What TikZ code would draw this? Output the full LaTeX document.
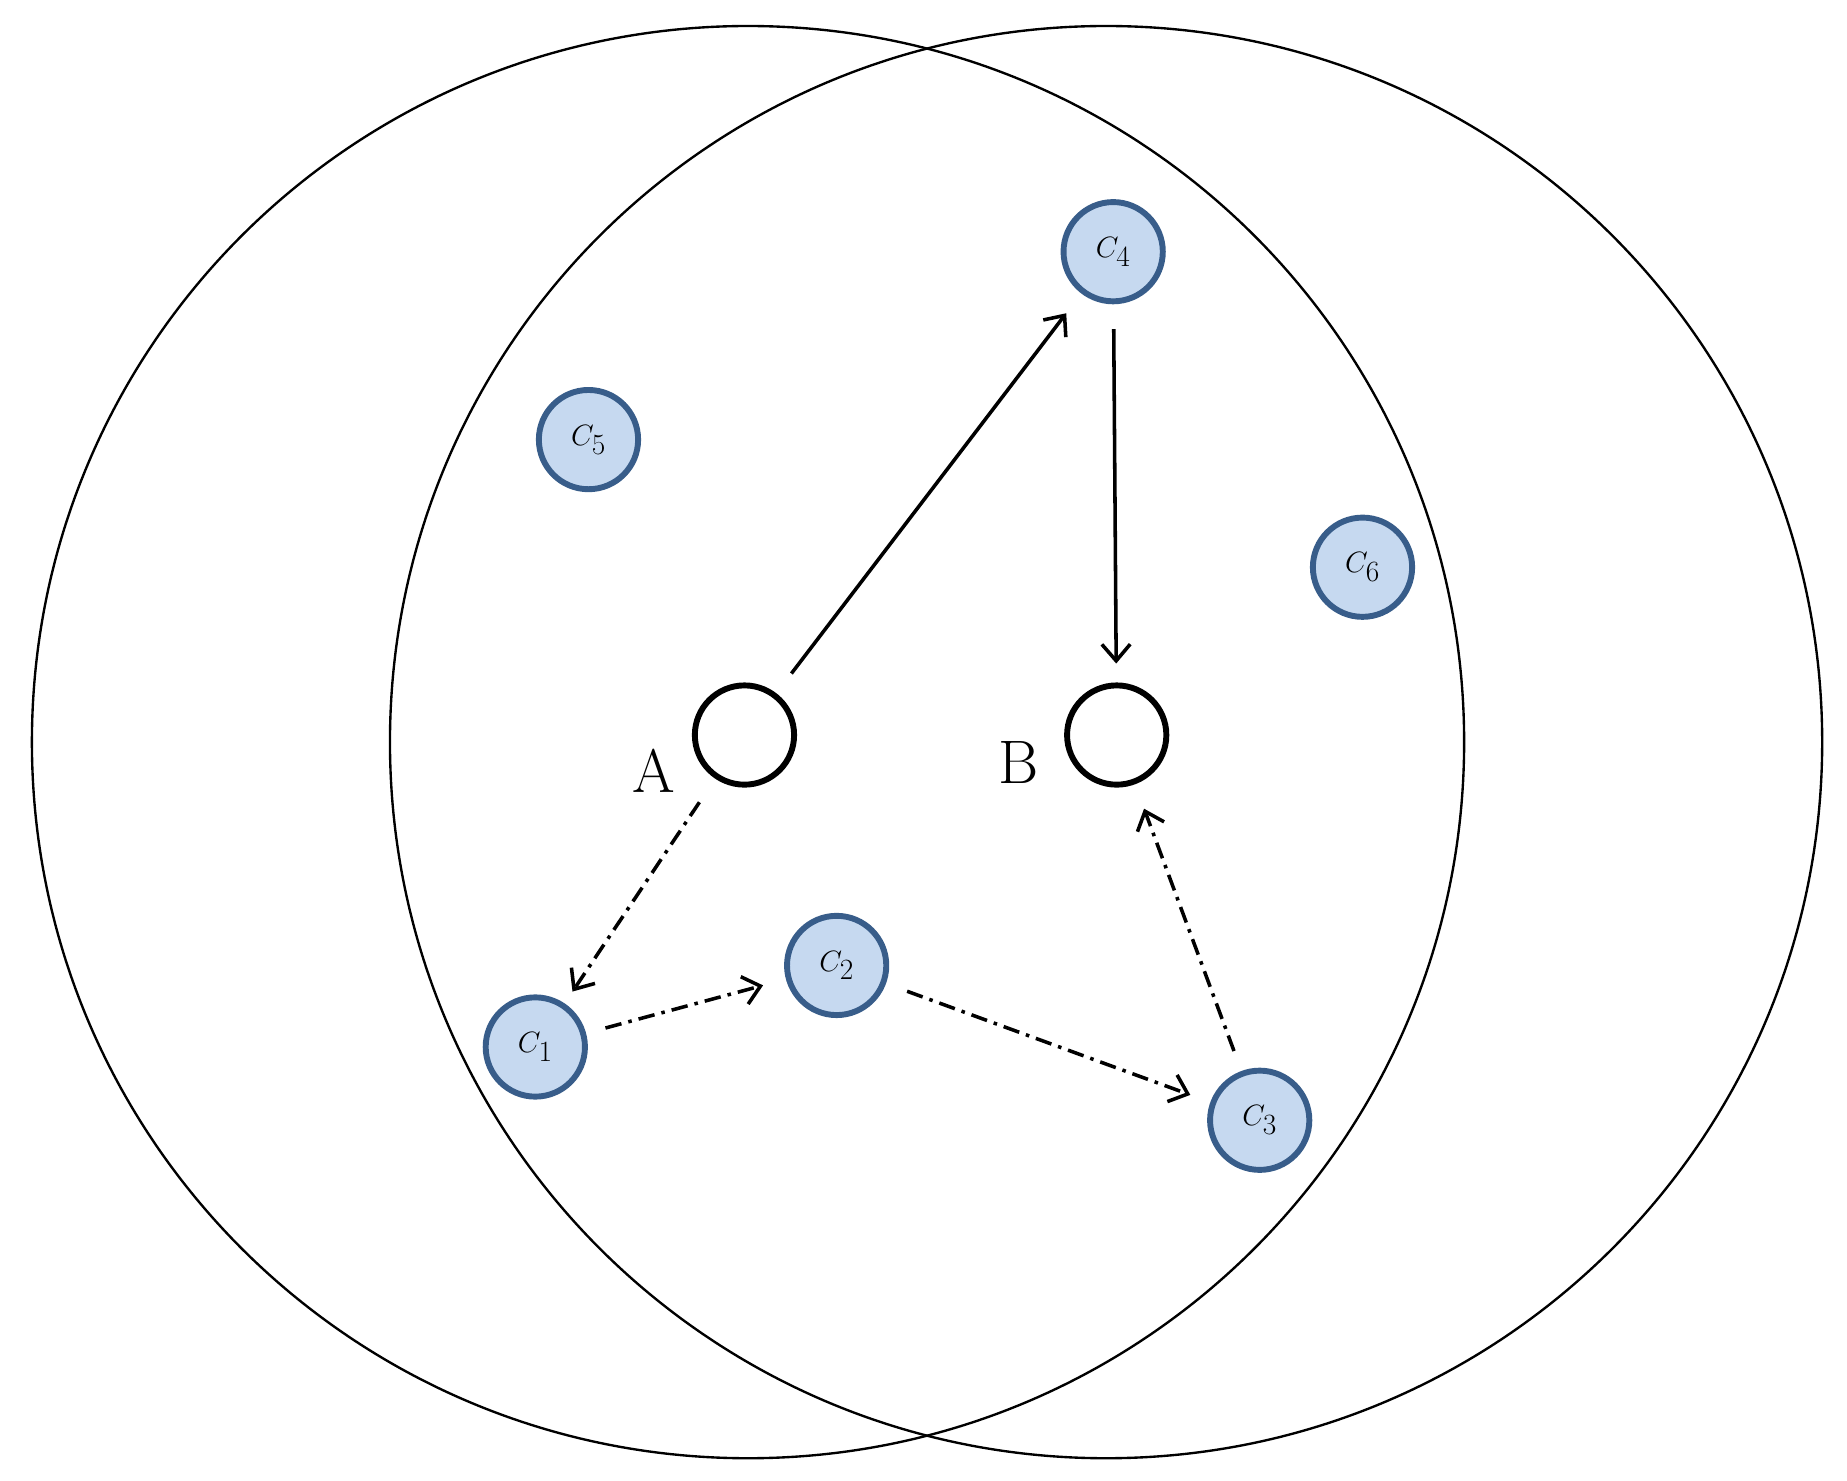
\documentclass[tikz,border=0pt]{standalone}
\usetikzlibrary{arrows.meta}
\definecolor{cfill}{HTML}{C6D9F0}
\definecolor{cdraw}{HTML}{385D8A}
\begin{document}
\begin{tikzpicture}[x=1pt,y=-1pt,
  cnode/.style={circle,draw=cdraw,fill=cfill,line width=5pt,minimum size=84pt,inner sep=0pt,font=\fontsize{40}{40}\selectfont},
  abnode/.style={circle,draw,line width=5pt,minimum size=84pt,inner sep=0pt},
  lab/.style={font=\fontsize{52}{52}\selectfont},
  arr/.style={line width=3pt,-{Straight Barb[length=14pt,width=24pt]}},
  dd/.style={arr,dash pattern=on 14pt off 6pt on 3pt off 6pt}]
\useasboundingbox (0,0) rectangle (1563,1253);
\node[circle,draw,line width=2pt,minimum size=1212pt,inner sep=0pt] (L) at (633,628) {};
\node[circle,draw,line width=2pt,minimum size=1212pt,inner sep=0pt] (R) at (936,628) {};
\node[abnode] (A) at (630,622) {};
\node[abnode] (B) at (945,622) {};
\node[lab] (la) at (553,652) {A};
\node[lab] (lb) at (862,645) {B};
\node[cnode] (C4) at (942,213) {$C_4$};
\node[cnode] (C5) at (498,372) {$C_5$};
\node[cnode] (C6) at (1153,480) {$C_6$};
\node[cnode] (C1) at (453,886) {$C_1$};
\node[cnode] (C2) at (708,817) {$C_2$};
\node[cnode] (C3) at (1066,948) {$C_3$};
\draw[arr,shorten <=21pt,shorten >=21pt] (A) -- (C4);
\draw[arr,shorten <=21pt,shorten >=16pt] (C4) -- (B);
\draw[dd,shorten <=24pt,shorten >=12pt] (A) -- (C1);
\draw[dd,shorten <=17pt,shorten >=20pt] (C1) -- (C2);
\draw[dd,shorten <=19pt,shorten >=18pt] (C2) -- (C3);
\draw[dd,shorten <=18pt,shorten >=22pt] (C3) -- (B);
\end{tikzpicture}
\end{document}
